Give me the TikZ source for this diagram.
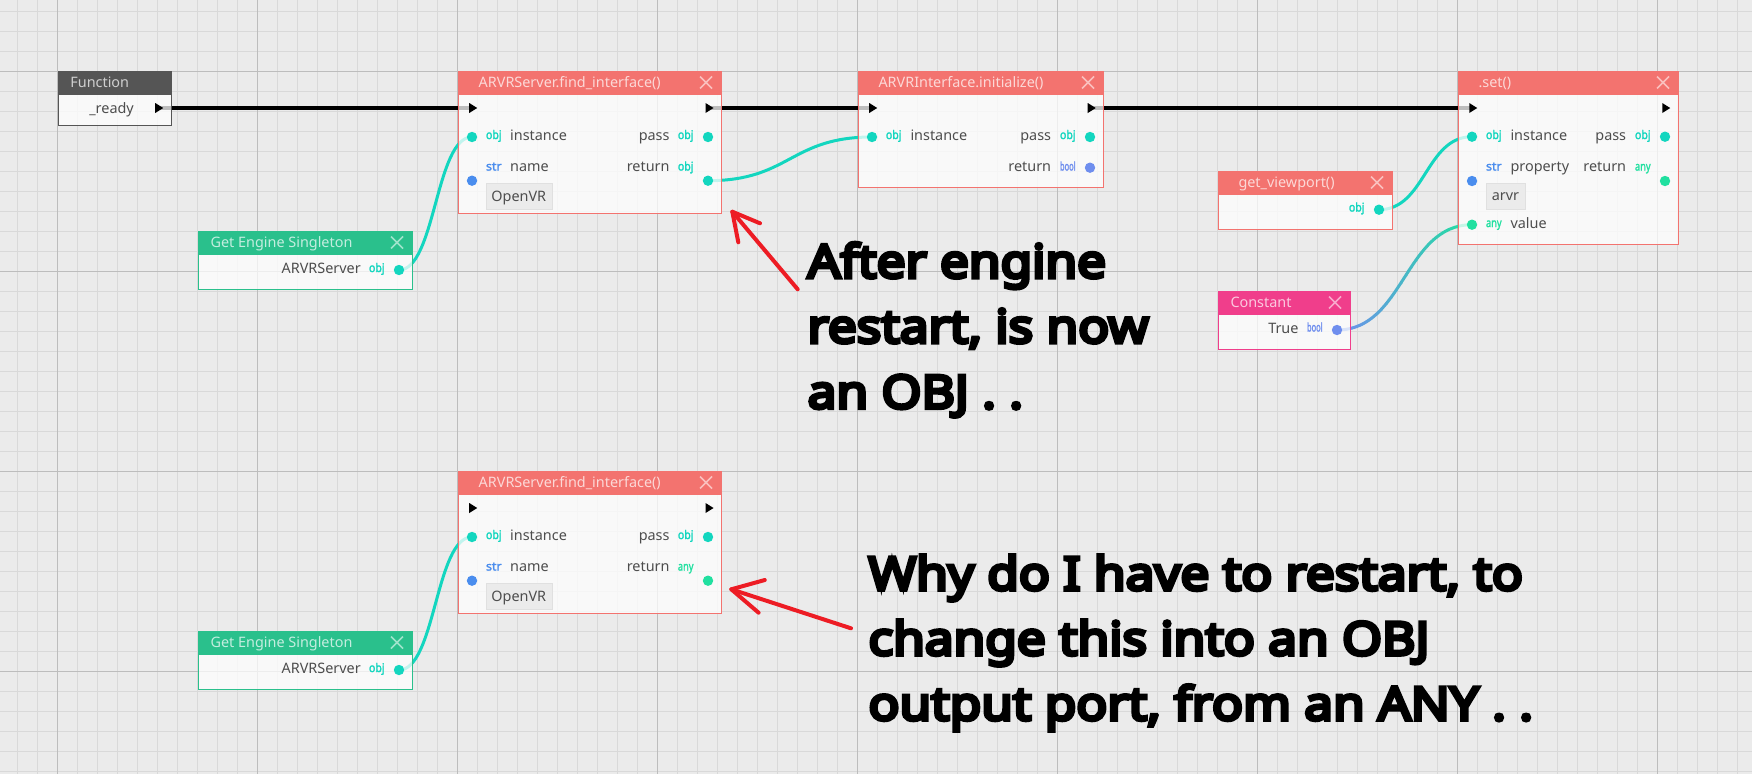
\documentclass[tikz,border=0pt]{standalone}
\usepackage{fontspec}
\setmainfont{Noto Sans}
\newfontfamily\bigfont[FakeBold=8,FakeStretch=1.115]{Noto Sans}
\newfontfamily\iconfont[FakeBold=2]{Noto Sans}
\usetikzlibrary{shapes.geometric,shapes.misc}
\definecolor{bgc}{HTML}{EBEBEB}
\definecolor{minorc}{HTML}{D9D9D9}
\definecolor{majorc}{HTML}{BDBDBD}
\definecolor{redh}{HTML}{F3736F}
\definecolor{greenh}{HTML}{2AC08C}
\definecolor{greyh}{HTML}{555555}
\definecolor{pinkh}{HTML}{F03E8B}
\definecolor{objc}{HTML}{13D6BF}
\definecolor{strc}{HTML}{4A8DEE}
\definecolor{anyc}{HTML}{21E0A0}
\definecolor{boolc}{HTML}{6F8EEE}
\definecolor{labc}{HTML}{4D4D4D}
\definecolor{annot}{HTML}{ED1C24}
\definecolor{fieldc}{HTML}{EBEBEB}
\pgfdeclarelayer{gridlayer}
\pgfdeclarelayer{wirelayer}
\pgfsetlayers{gridlayer,wirelayer,main}
\tikzset{
  gbody/.style={rectangle,anchor=north west,inner sep=0pt,outer sep=0pt,line width=1pt,fill=white,fill opacity=.74,draw opacity=1},
  ghead/.style={rectangle,anchor=north west,inner sep=0pt,outer sep=0pt,minimum height=23.5pt},
  gtitle/.style={anchor=base west,inner sep=0pt,font=\fontsize{14.4}{18}\selectfont},
  gclose/.style={cross out,inner sep=0pt,minimum size=10.5pt,line width=1.5pt},
  pinport/.style={circle,inner sep=0pt,minimum size=10.4pt,fill=#1},
  exectri/.style={isosceles triangle,isosceles triangle apex angle=70,isosceles triangle stretches,fill=black,inner sep=0pt,minimum height=8pt,minimum width=10pt,anchor=center},
  lbll/.style={anchor=base west,inner sep=0pt,text=labc,font=\fontsize{14.4}{18}\selectfont},
  lblr/.style={anchor=base east,inner sep=0pt,text=labc,font=\fontsize{14.4}{18}\selectfont},
  fieldbox/.style={rectangle,anchor=north west,inner sep=0pt,fill=fieldc,draw=black!12,line width=.8pt},
  fieldtxt/.style={anchor=base,inner sep=0pt,text=labc,font=\fontsize{14.4}{18}\selectfont},
  ticon/.style={anchor=base,inner sep=0pt,font=\iconfont\fontsize{12}{14}\selectfont},
  execwire/.style={line width=3.5pt,black},
  datawire/.style={line width=3pt,line cap=round},
  annotline/.style={line width=4pt,annot,line cap=round,line join=round},
  bigtxt/.style={anchor=base west,inner sep=0pt,text=black,font=\bigfont\fontsize{46}{50}\selectfont},
}
% name, x, y, width, height, colour, title offset, title
\newcommand{\gframe}[8]{%
  \node[gbody,draw=#6,minimum width=#4pt,minimum height=#5pt] (#1) at (#2,{#3}) {};
  \node[ghead,fill=#6,minimum width=#4pt] (#1head) at (#2,{#3}) {};
  \node[gtitle,text=white!72!#6] (#1title) at ({#2+#7},{#3+16}) {#8};
}
\newcommand{\gx}[4]{\node[gclose,draw=white!55!#4] (#1) at (#2,{#3}) {};}
\newcommand{\ticn}[5]{\node[ticon,text=#4] (#1) at (#2,{#3}) {\resizebox{15.6pt}{\height}{#5}};}
\newcommand{\fif}[2]{% prefix, dy
  \gframe{#1}{458.5}{#2+71.5}{263.2}{141.8}{redh}{20}{ARVRServer.find\_interface()}
  \gx{#1x}{706}{#2+82.5}{redh}
  \node[exectri] (#1ein) at (472,{#2+108}) {};
  \node[exectri] (#1eout) at (708.3,{#2+108}) {};
  \node[pinport=objc] (#1pi) at (472,{#2+137}) {};
  \node[pinport=strc] (#1pn) at (472,{#2+180.7}) {};
  \node[pinport=objc] (#1po) at (708,{#2+137}) {};
  \ticn{#1ti}{493.8}{#2+139}{objc}{obj}
  \ticn{#1tn}{493.8}{#2+170.5}{strc}{str}
  \ticn{#1tp}{685.7}{#2+139}{objc}{obj}
  \node[lbll] (#1li) at (510,{#2+140}) {instance};
  \node[lbll] (#1ln) at (510,{#2+171}) {name};
  \node[lblr] (#1lp) at (669.7,{#2+140}) {pass};
  \node[lblr] (#1lr) at (669.7,{#2+171}) {return};
  \node[fieldbox,minimum width=65.7pt,minimum height=25.7pt] (#1fb) at (486,{#2+183}) {};
  \node[fieldtxt] (#1ft) at (518.8,{#2+201.7}) {OpenVR};
}
\newcommand{\sing}[2]{% prefix, dy
  \gframe{#1}{198.7}{#2+231.5}{213.8}{57.8}{greenh}{11.7}{Get Engine Singleton}
  \gx{#1x}{397}{#2+242.5}{greenh}
  \node[lblr] (#1l) at (361,{#2+273.3}) {ARVRServer};
  \ticn{#1t}{376.8}{#2+272}{objc}{obj}
  \node[pinport=objc] (#1p) at (399,{#2+270}) {};
}
\begin{document}
\begin{tikzpicture}[x=1pt,y=-1pt]
\useasboundingbox (0,0) rectangle (1752,774);
\begin{pgfonlayer}{gridlayer}
  \fill[bgc] (0,0) rectangle (1752,774);
  \foreach \i in {0,...,87} {\draw[minorc,line width=1pt] ({17.5+20*\i},0) -- ({17.5+20*\i},774);}
  \foreach \i in {0,...,38} {\draw[minorc,line width=1pt] (0,{11.5+20*\i}) -- (1752,{11.5+20*\i});}
  \foreach \i in {0,...,8} {\draw[majorc,line width=1pt] ({57.5+200*\i},0) -- ({57.5+200*\i},774);}
  \foreach \i in {0,...,3} {\draw[majorc,line width=1pt] (0,{71.5+200*\i}) -- (1752,{71.5+200*\i});}
\end{pgfonlayer}

% Function
\gframe{fn}{58.5}{71.5}{113}{53.8}{greyh}{11.7}{Function}
\node[lblr] (fnl) at (134,113) {\_ready};
\node[exectri] (fnout) at (158,108) {};

% find_interface, both
\fif{fa}{0}
\ticn{fatr}{685.7}{170.5}{objc}{obj}
\node[pinport=objc] (fapr) at (708,180.7) {};
\fif{fb}{400}
\ticn{fbtr}{685.7}{570.5}{anyc}{any}
\node[pinport=anyc] (fbpr) at (708,580.7) {};

% singletons
\sing{sa}{0}
\sing{sb}{400}

% initialize
\gframe{ini}{858.3}{71.5}{245.4}{115.8}{redh}{20}{ARVRInterface.initialize()}
\gx{inix}{1088}{82.5}{redh}
\node[exectri] (iniein) at (872,108) {};
\node[exectri] (inieout) at (1090.5,108) {};
\node[pinport=objc] (inipi) at (872,137) {};
\node[pinport=objc] (inipo) at (1090,137) {};
\node[pinport=boolc] (inipr) at (1090,167.7) {};
\ticn{initi}{893.7}{139}{objc}{obj}
\ticn{initp}{1067.8}{139}{objc}{obj}
\ticn{initr}{1067.8}{170.5}{boolc}{bool}
\node[lbll] (inili) at (910.3,140) {instance};
\node[lblr] (inilp) at (1051.3,140) {pass};
\node[lblr] (inilr) at (1051.3,171) {return};

% set
\gframe{st}{1458.3}{71.5}{220.4}{172.8}{redh}{20}{.set()}
\gx{stx}{1663}{82.5}{redh}
\node[exectri] (stein) at (1472,108) {};
\node[exectri] (steout) at (1665,108) {};
\node[pinport=objc] (stpi) at (1472,136.7) {};
\node[pinport=strc] (stpn) at (1472,181) {};
\node[pinport=anyc] (stpv) at (1472,224.7) {};
\node[pinport=objc] (stpo) at (1665,136.7) {};
\node[pinport=anyc] (stpr) at (1665,181) {};
\ticn{stti}{1493.8}{139}{objc}{obj}
\ticn{sttn}{1493.8}{170.5}{strc}{str}
\ticn{sttv}{1493.8}{227}{anyc}{any}
\ticn{sttp}{1642.8}{139}{objc}{obj}
\ticn{sttr}{1642.8}{170.5}{anyc}{any}
\node[lbll] (stli) at (1510.3,140) {instance};
\node[lbll] (stln) at (1510.3,171) {property};
\node[lbll] (stlv) at (1510.3,228.3) {value};
\node[lblr] (stlp) at (1626.3,140) {pass};
\node[lblr] (stlr) at (1626.3,171) {return};
\node[fieldbox,minimum width=39pt,minimum height=26pt] (stfb) at (1486,183) {};
\node[fieldtxt] (stft) at (1505.5,200.7) {arvr};

% get_viewport
\gframe{gv}{1218.3}{171.5}{174.4}{57.8}{redh}{20}{get\_viewport()}
\gx{gvx}{1377}{182.5}{redh}
\ticn{gvt}{1356.7}{211.5}{objc}{obj}
\node[pinport=objc] (gvp) at (1379,209.7) {};

% constant
\gframe{co}{1218.3}{291.5}{132.4}{57.8}{pinkh}{12}{Constant}
\gx{cox}{1335}{302.5}{pinkh}
\node[lblr] (col) at (1298.7,333.3) {True};
\ticn{cot}{1314.8}{331.5}{boolc}{bool}
\node[pinport=boolc] (cop) at (1337,330) {};

% wires
\begin{pgfonlayer}{wirelayer}
  \draw[execwire] (fnout.center) -- (faein.center);
  \draw[execwire] (faeout.center) -- (iniein.center);
  \draw[execwire] (inieout.center) -- (stein.center);
  \draw[datawire,objc] (sap.center) .. controls +(36.5,0) and +(-36.5,0) .. (fapi.center);
  \draw[datawire,objc] (sbp.center) .. controls +(36.5,0) and +(-36.5,0) .. (fbpi.center);
  \draw[datawire,objc] (fapr.center) .. controls +(82,0) and +(-82,0) .. (inipi.center);
  \draw[datawire,objc] (gvp.center) .. controls +(46.5,0) and +(-46.5,0) .. (stpi.center);
  \foreach \i in {0,...,26} {
    \pgfmathsetmacro{\xa}{1337+\i*5}
    \pgfmathsetmacro{\mixp}{100*\i/26}
    \begin{scope}
      \clip (\xa,340) rectangle ({\xa+5.4},215);
      \draw[datawire,draw=anyc!\mixp!boolc] (cop.center) .. controls +(67.5,0) and +(-67.5,0) .. (stpv.center);
    \end{scope}
  }
\end{pgfonlayer}

% annotation arrows
\coordinate (a1tail) at (797.7,289.3);
\coordinate (a1tip) at (732.3,211.7);
\coordinate (a1ba) at (760,223.3);
\coordinate (a1bb) at (738.3,242.3);
\draw[annotline] (a1tail) -- (a1tip);
\draw[annotline] (a1ba) -- (a1tip) -- (a1bb);
\coordinate (a2tail) at (851,628.3);
\coordinate (a2tip) at (731.3,589.3);
\coordinate (a2ba) at (764.8,580);
\coordinate (a2bb) at (758.6,612.7);
\draw[annotline] (a2tail) -- (a2tip);
\draw[annotline] (a2ba) -- (a2tip) -- (a2bb);

% big text
\node[bigtxt] (t1a) at (807.5,277.7) {After engine};
\node[bigtxt] (t1b) at (807.5,342.7) {restart, is now};
\node[bigtxt] (t1c) at (807.5,408.3) {an OBJ . .};
\node[bigtxt] (t2a) at (868.3,590) {Why do I have to restart, to};
\node[bigtxt] (t2b) at (868.3,655) {change this into an OBJ};
\node[bigtxt] (t2c) at (868.3,720) {output port, from an ANY . .};
\end{tikzpicture}
\end{document}
